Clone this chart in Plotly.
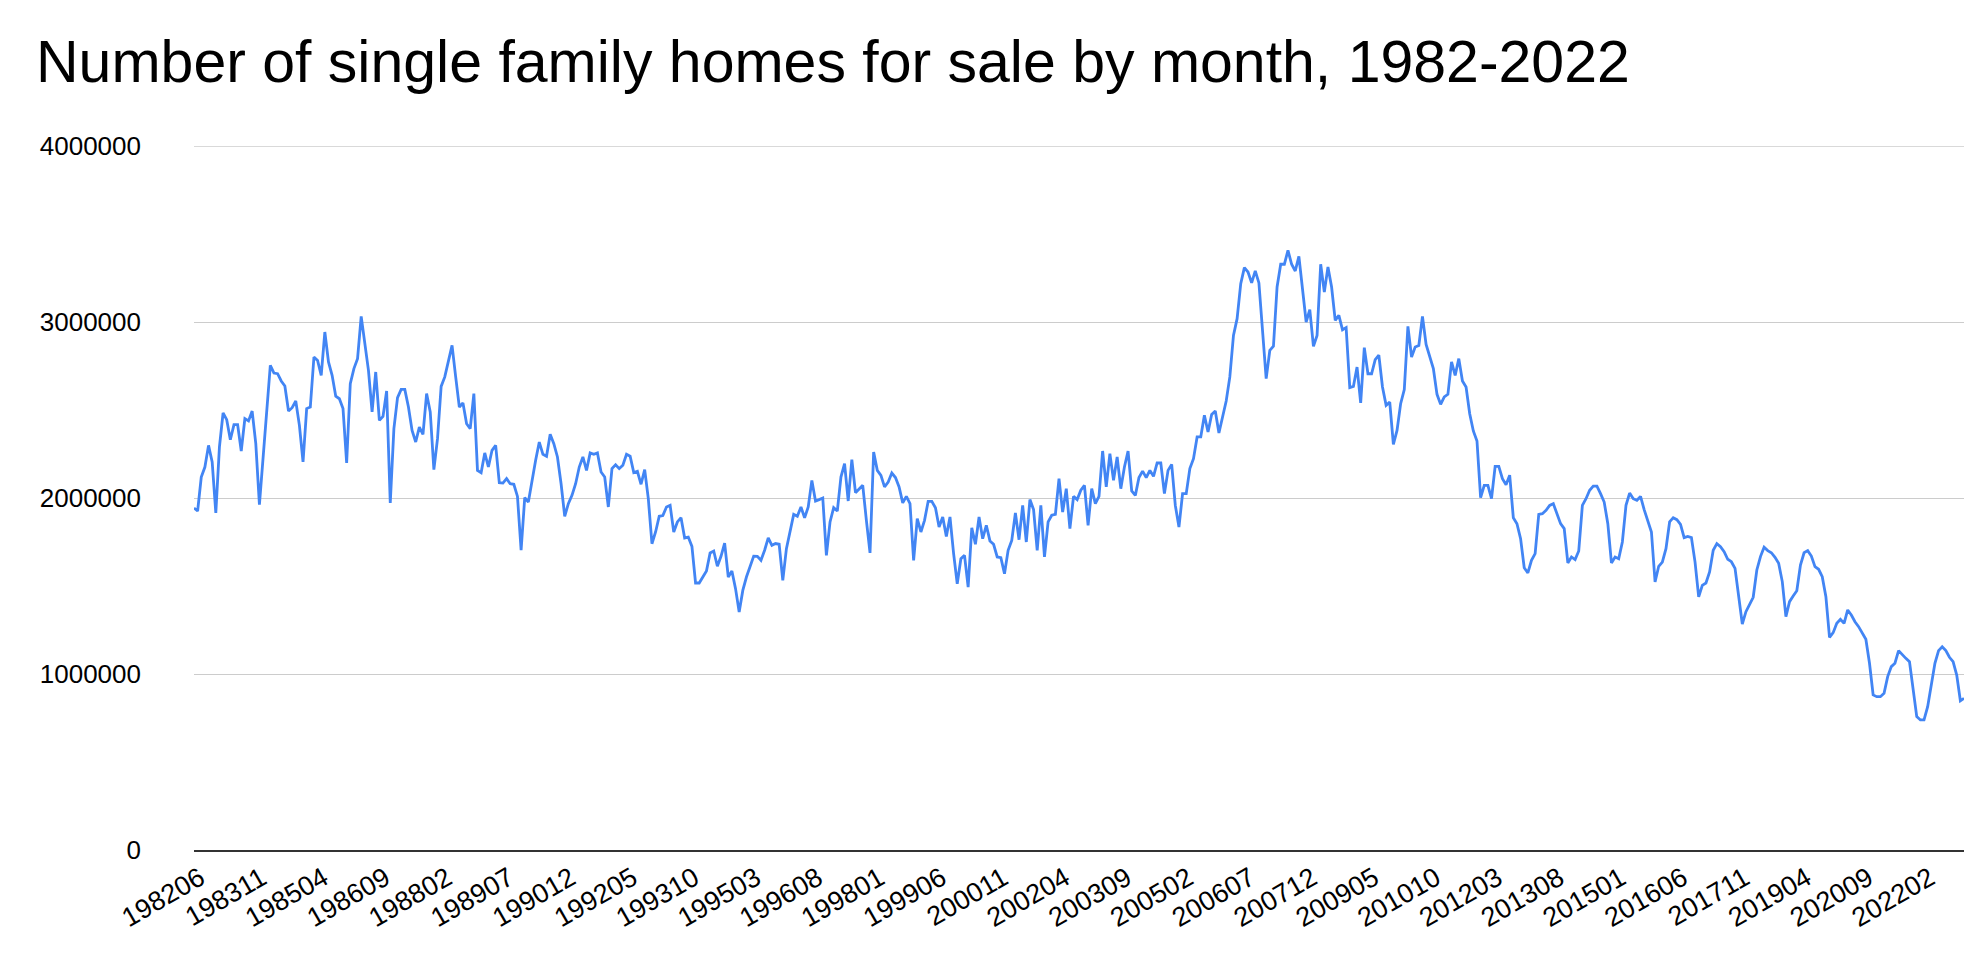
import plotly.graph_objects as go

# Monthly counts, June 1982 .. January 2023
values_1980s = [
    1943000, 1926000, 2119000, 2176000, 2299000, 2205000, 1915000,
    2290000, 2483000, 2445000, 2331000, 2417000, 2417000, 2267000, 2451000, 2438000, 2494000, 2309000, 1962000,
    2233000, 2506000, 2754000, 2710000, 2706000, 2665000, 2636000, 2494000, 2513000, 2551000, 2413000, 2205000,
    2508000, 2517000, 2801000, 2782000, 2697000, 2943000, 2773000, 2697000, 2578000, 2564000, 2508000, 2199000,
    2650000, 2735000, 2792000, 3032000, 2877000, 2725000, 2489000, 2716000, 2441000, 2464000, 2608000, 1972000,
    2394000, 2570000, 2617000, 2617000, 2517000, 2384000, 2318000, 2403000, 2362000, 2593000, 2489000, 2161000,
    2337000, 2634000, 2688000, 2773000, 2867000, 2688000, 2517000, 2540000, 2422000, 2394000, 2593000, 2157000,
    2144000, 2256000, 2176000, 2271000, 2299000, 2087000, 2085000, 2110000, 2081000, 2078000, 2009000, 1703000,
]
values_1990s = [
    2002000, 1977000, 2100000, 2214000, 2318000, 2248000, 2237000, 2362000, 2309000, 2233000, 2081000, 1896000,
    1968000, 2015000, 2081000, 2176000, 2233000, 2157000, 2256000, 2248000, 2256000, 2148000, 2119000, 1949000,
    2167000, 2189000, 2167000, 2186000, 2248000, 2237000, 2144000, 2152000, 2078000, 2161000, 1996000, 1740000,
    1807000, 1896000, 1900000, 1949000, 1958000, 1807000, 1864000, 1888000, 1773000, 1778000, 1725000, 1517000,
    1517000, 1551000, 1585000, 1688000, 1699000, 1612000, 1669000, 1744000, 1551000, 1585000, 1485000, 1352000,
    1475000, 1551000, 1608000, 1670000, 1669000, 1646000, 1703000, 1773000, 1731000, 1741000, 1737000, 1532000,
    1712000, 1816000, 1907000, 1896000, 1949000, 1888000, 1949000, 2100000, 1983000, 1991000, 2000000, 1674000,
    1864000, 1945000, 1926000, 2119000, 2195000, 1983000, 2218000, 2030000, 2050000, 2072000, 1873000, 1688000,
    2261000, 2157000, 2129000, 2063000, 2091000, 2142000, 2116000, 2063000, 1972000, 2009000, 1968000, 1646000,
    1883000, 1807000, 1873000, 1981000, 1981000, 1945000, 1835000, 1892000, 1782000, 1892000, 1684000, 1513000,
]
values_2000s = [
    1655000, 1674000, 1494000, 1831000, 1737000, 1892000, 1769000, 1845000, 1756000, 1737000, 1665000, 1661000,
    1570000, 1703000, 1759000, 1915000, 1763000, 1958000, 1750000, 1991000, 1934000, 1703000, 1958000, 1665000,
    1864000, 1902000, 1907000, 2110000, 1920000, 2053000, 1826000, 2009000, 1991000, 2044000, 2072000, 1845000,
    2053000, 1968000, 2009000, 2267000, 2063000, 2252000, 2100000, 2233000, 2053000, 2176000, 2267000, 2040000,
    2015000, 2116000, 2153000, 2116000, 2157000, 2123000, 2199000, 2199000, 2025000, 2157000, 2191000, 1958000,
    1835000, 2025000, 2025000, 2167000, 2223000, 2347000, 2347000, 2470000, 2375000, 2475000, 2494000, 2369000,
    2460000, 2551000, 2688000, 2924000, 3019000, 3218000, 3309000, 3284000, 3222000, 3290000, 3222000, 2924000,
    2678000, 2839000, 2862000, 3199000, 3328000, 3328000, 3407000, 3328000, 3290000, 3373000, 3199000, 3000000,
    3070000, 2862000, 2924000, 3328000, 3170000, 3313000, 3199000, 3009000, 3038000, 2956000, 2968000, 2627000,
    2634000, 2744000, 2540000, 2854000, 2706000, 2706000, 2786000, 2811000, 2631000, 2527000, 2545000, 2305000,
]
values_2010s = [
    2384000, 2536000, 2616000, 2975000, 2801000, 2858000, 2867000, 3032000, 2873000, 2801000, 2735000, 2589000,
    2532000, 2574000, 2589000, 2773000, 2697000, 2792000, 2665000, 2631000, 2479000, 2381000, 2324000, 2002000,
    2072000, 2072000, 1996000, 2180000, 2180000, 2110000, 2075000, 2130000, 1888000, 1854000, 1769000, 1604000,
    1574000, 1646000, 1684000, 1907000, 1911000, 1930000, 1958000, 1968000, 1915000, 1854000, 1826000, 1631000,
    1665000, 1650000, 1699000, 1958000, 1996000, 2044000, 2068000, 2068000, 2025000, 1977000, 1854000, 1631000,
    1665000, 1655000, 1750000, 1958000, 2028000, 1996000, 1987000, 2009000, 1934000, 1864000, 1807000, 1523000,
    1612000, 1636000, 1712000, 1864000, 1888000, 1877000, 1850000, 1775000, 1782000, 1775000, 1636000, 1438000,
    1504000, 1517000, 1580000, 1703000, 1741000, 1723000, 1695000, 1652000, 1638000, 1600000, 1449000, 1284000,
    1354000, 1392000, 1436000, 1591000, 1667000, 1720000, 1701000, 1689000, 1663000, 1629000, 1525000, 1326000,
    1411000, 1443000, 1473000, 1619000, 1689000, 1701000, 1670000, 1610000, 1595000, 1553000, 1439000, 1208000,
]
values_2020s = [
    1235000, 1288000, 1311000, 1288000, 1364000, 1335000, 1297000, 1269000, 1231000, 1197000, 1061000, 881000,
    871000, 871000, 890000, 985000, 1042000, 1061000, 1133000, 1108000, 1089000, 1070000, 928000, 758000,
    739000, 739000, 814000, 938000, 1061000, 1133000, 1155000, 1133000, 1095000, 1070000, 994000, 848000,
    862000,
]

values = values_1980s + values_1990s + values_2000s + values_2010s + values_2020s

# Month categories (YYYYMM), starting June 1982
start_year, start_month = 1982, 6
categories = []
for k in range(len(values)):
    m = start_month - 1 + k
    categories.append(f"{start_year + m // 12}{m % 12 + 1:02d}")

tick_labels = [
    "198206", "198311", "198504", "198609", "198802", "198907", "199012", "199205",
    "199310", "199503", "199608", "199801", "199906", "200011", "200204", "200309",
    "200502", "200607", "200712", "200905", "201010", "201203", "201308", "201501",
    "201606", "201711", "201904", "202009", "202202",
]
y_ticks = [0, 1000000, 2000000, 3000000, 4000000]

FONT = "Liberation Sans, Arial, sans-serif"
GRID = "#cccccc"

fig = go.Figure()
fig.add_trace(go.Scatter(
    x=categories, y=values, mode="lines",
    line=dict(color="#4285F4", width=2.8),
    hoverinfo="x+y", showlegend=False,
))

# top gridline (Plotly omits the gridline that sits on the range edge)
fig.add_shape(
    type="line", xref="paper", yref="y",
    x0=0, x1=1, y0=y_ticks[-1], y1=y_ticks[-1],
    line=dict(color=GRID, width=1.3), layer="below",
)

fig.update_layout(
    width=1984, height=964,
    margin=dict(l=194, r=20, t=146, b=114),
    paper_bgcolor="white", plot_bgcolor="white",
    font=dict(family=FONT, color="#000000"),
    title=dict(
        text="Number of single family homes for sale by month, 1982-2022",
        font=dict(family=FONT, size=59, color="#000000"),
        xref="container", yref="container",
        x=36 / 1984, xanchor="left",
        y=1 - 61 / 964, yanchor="middle",
    ),
    xaxis=dict(
        type="category",
        categoryorder="array", categoryarray=categories,
        range=[0, len(categories) - 1],
        tickmode="array", tickvals=tick_labels, ticktext=tick_labels,
        tickangle=-30,
        tickfont=dict(family=FONT, size=27, color="#000000"),
        showgrid=False, zeroline=False,
        showline=True, linecolor="#333333", linewidth=2,
        ticks="",
        ticklabelshift=6,
    ),
    yaxis=dict(
        range=[0, 4000000],
        tickmode="array", tickvals=y_ticks, ticktext=[str(v) for v in y_ticks],
        tickfont=dict(family=FONT, size=26, color="#000000"),
        showgrid=True, gridcolor=GRID, gridwidth=1.3,
        zeroline=False, showline=False, ticks="",
        ticklabelstandoff=52,
    ),
)

fig.write_html(
    "out.html",
    config={"displayModeBar": False},
    post_script="document.body.style.margin='0';",
)
